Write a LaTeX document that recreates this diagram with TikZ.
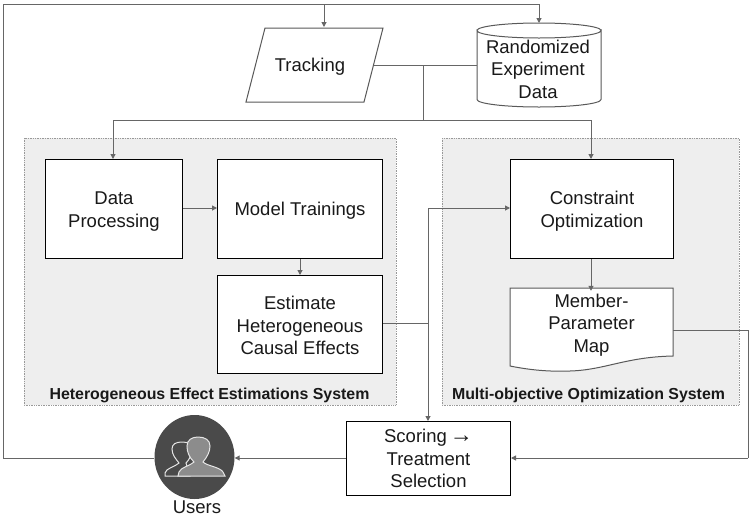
\documentclass[tikz,border=0pt]{standalone}
\usepackage{fontspec}
\setmainfont{Liberation Sans}
\usetikzlibrary{arrows.meta}
\definecolor{wire}{HTML}{666666}
\definecolor{panel}{HTML}{EEEEEE}
\definecolor{disc}{HTML}{4A4A4A}
\definecolor{head}{HTML}{8C8C8C}
\newcommand{\lowertext}[1]{\rule{0pt}{#1pt}}
\tikzset{
  x=1pt,y=-1pt,
  every node/.style={font=\fontsize{18.5}{22.5}\selectfont,text=black!90,align=center,inner sep=0pt},
  boxnode/.style={draw=black,line width=1pt,fill=white,anchor=north west},
  shapeline/.style={draw=black!65,line width=1pt,fill=white},
  wireline/.style={draw=wire,line width=1pt},
  arrowline/.style={wireline,-{Triangle[length=5pt,width=5pt]}},
  panelbox/.style={draw=black!40,densely dotted,line width=.7pt,fill=panel},
  paneltitle/.style={font=\fontsize{15.9}{18}\selectfont\bfseries}
}
\begin{document}
\begin{tikzpicture}
\useasboundingbox (0,0) rectangle (752,517);
\fill[white] (0,0) rectangle (752,517);
% panels
\path[panelbox] (24,138) rectangle (396,405);
\path[panelbox] (442,138) rectangle (739,405);
\node[paneltitle] (leftTitle) at (209.5,395) {Heterogeneous Effect Estimations System};
\node[paneltitle] (rightTitle) at (588.5,395) {Multi-objective Optimization System};
% boxes
\node[boxnode,minimum width=137,minimum height=99] (data) at (45,159) {\lowertext{18}Data\\Processing};
\node[boxnode,minimum width=165,minimum height=99] (model) at (217,159) {\lowertext{16}Model Trainings};
\node[boxnode,minimum width=165,minimum height=98] (effects) at (217,275) {\lowertext{16}Estimate\\Heterogeneous\\Causal Effects};
\node[boxnode,minimum width=163,minimum height=99] (constraint) at (510,159) {\lowertext{18}Constraint\\Optimization};
\node[boxnode,minimum width=164,minimum height=74] (scoring) at (346,421) {Scoring\kern3pt{\fontsize{23}{22.5}\selectfont →}\\Treatment\\Selection};
% parallelogram
\path[shapeline] (265,28) -- (383,28) -- (364,102) -- (246,102) -- cycle;
\node[minimum width=118,minimum height=74] (tracking) at (310,67) {Tracking};
% cylinder
\path[shapeline] (477,30.5) arc[start angle=180,end angle=0,x radius=62,y radius=7.5]
  -- (601,99.5) arc[start angle=0,end angle=180,x radius=62,y radius=7.5] -- cycle;
\path[shapeline,fill=none] (477,30.5) arc[start angle=180,end angle=360,x radius=62,y radius=7.5];
\node[minimum width=124,minimum height=60] (rand) at (538,69) {Randomized\\Experiment\\Data};
% document
\path[shapeline] (510,288) -- (673,288) -- (673,356)
  .. controls (625,357) and (605,370) .. (570,371)
  .. controls (545,372) and (525,369) .. (510,366) -- cycle;
\node[minimum width=163,minimum height=68] (map) at (591.5,325) {Member-\\Parameter\\Map};
% users
\fill[disc] (194.5,457) ellipse[x radius=40,y radius=42];
\draw[white!90!black,line width=1pt,fill=disc]
  (165,476) -- (165,473) .. controls (166,468) and (175,467) .. (179,463)
  .. controls (176,459) and (172,455) .. (172,449)
  .. controls (172,444) and (176,442) .. (182,442)
  .. controls (188,442) and (192,444) .. (192,449)
  .. controls (192,455) and (189,460) .. (186,463) -- (190,476) -- cycle;
\draw[white!90!black,line width=1pt,fill=head]
  (178,476) -- (179,472) .. controls (181,467) and (190,466) .. (194,462)
  .. controls (189,457) and (187,452) .. (187,446)
  .. controls (187,440) and (192,437) .. (198,437)
  .. controls (205,437) and (210,440) .. (210,446)
  .. controls (210,452) and (207,457) .. (203,462)
  .. controls (207,466) and (220,467) .. (223,472) -- (225,476) -- cycle;
\node[minimum size=80,circle] (users) at (194.5,458) {};
\node (usersLabel) at (197,507.5) {Users};
% helper points
\coordinate (outL) at (3,458);
\coordinate (outT) at (3,4);
\coordinate (topA) at (324,4);
\coordinate (topB) at (539,4);
\coordinate (trackIn) at (324,27);
\coordinate (randIn) at (539,23);
\coordinate (trackOut) at (374,65);
\coordinate (randOut) at (477,65);
\coordinate (junction) at (423,65);
\coordinate (split) at (423,120);
\coordinate (splitL) at (113,120);
\coordinate (splitR) at (591,120);
\coordinate (busTop) at (428,208);
\coordinate (busMid) at (428,323);
\coordinate (mapOut) at (673,330);
\coordinate (mapR) at (748,330);
\coordinate (mapD) at (748,458);
% connectors
\draw[wireline] (users.west |- 0,458) -- (outL) -- (outT) -- (topB);
\draw[arrowline] (topA) -- (trackIn);
\draw[arrowline] (topB) -- (randIn);
\draw[wireline] (trackOut) -- (randOut);
\draw[wireline] (junction) -- (split);
\draw[wireline] (splitL) -- (splitR);
\draw[arrowline] (splitL) -- (data.north -| splitL);
\draw[arrowline] (splitR) -- (constraint.north -| splitR);
\draw[arrowline] (data.east |- 0,208) -- (model.west |- 0,208);
\draw[arrowline] (model.south) -- (effects.north);
\draw[wireline] (effects.east |- busMid) -- (busMid);
\draw[arrowline] (busMid) -- (busTop) -- (constraint.west |- busTop);
\draw[arrowline] (busMid) -- (scoring.north -| busMid);
\draw[arrowline] (constraint.south -| splitR) -- (map.north -| splitR);
\draw[wireline] (mapOut) -- (mapR) -- (mapD);
\draw[arrowline] (mapD) -- (scoring.east |- mapD);
\draw[arrowline] (scoring.west |- mapD) -- (users.east |- mapD);
\end{tikzpicture}
\end{document}
